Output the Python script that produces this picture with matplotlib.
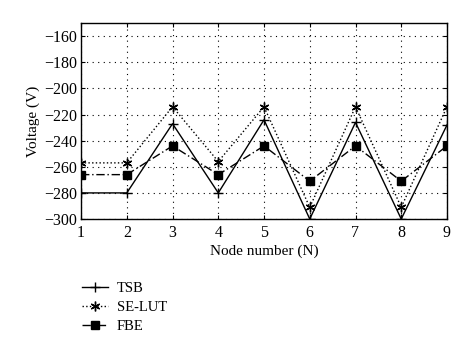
import matplotlib
matplotlib.use("Agg")
import matplotlib.pyplot as plt

nodes = [1, 2, 3, 4, 5, 6, 7, 8, 9]
tsb = [-280, -280, -227, -280, -224, -300, -226, -300, -228]
se_lut = [-257, -257, -214, -256, -214, -291, -214, -291, -214]
fbe = [-266, -266, -244, -266, -244, -271, -244, -271, -244]
yticks = [-300, -280, -260, -240, -220, -200, -180, -160]

plt.rcParams['font.family'] = ['Liberation Serif', 'DejaVu Serif']
plt.rcParams['axes.unicode_minus'] = True

fig = plt.figure(figsize=(4.74, 3.51), dpi=100)
ax = fig.add_axes([0.171, 0.376, 0.772, 0.558])

l1, = ax.plot(nodes, tsb, color='black', linestyle='-', linewidth=1.0,
              marker='+', markersize=7, markeredgewidth=1.0, label='TSB')
l2, = ax.plot(nodes, se_lut, color='black', linestyle=':', linewidth=1.0,
              marker=(6, 2, 0), markersize=7, markeredgewidth=1.0, label='SE-LUT')
l3, = ax.plot(nodes, fbe, color='black', linestyle=(0, (6, 2, 1, 2)), linewidth=1.0,
              marker='s', markersize=6, markerfacecolor='black', label='FBE')

ax.set_xlim(1, 9)
ax.set_ylim(-300, -150)
ax.set_xticks(nodes)
ax.set_yticks(yticks)
ax.grid(True, color='black', linestyle=(0, (1, 4)), linewidth=0.8)
ax.tick_params(direction='in', labelsize=11.5, length=3, top=True, right=True, pad=3)
ax.tick_params(axis='x', pad=4)
for s in ax.spines.values():
    s.set_linewidth(1.0)
ax.set_xlabel('Node number (N)', fontsize=11, labelpad=3)
ax.set_ylabel('Voltage (V)', fontsize=11, labelpad=3)

fig.legend(handles=[l1, l2, l3], loc='upper left', bbox_to_anchor=(0.172, 0.198),
           frameon=False, fontsize=10.5, handlelength=1.8, handletextpad=0.6,
           labelspacing=0.42, borderaxespad=0, borderpad=0)

fig.savefig('out.png', dpi=100)
